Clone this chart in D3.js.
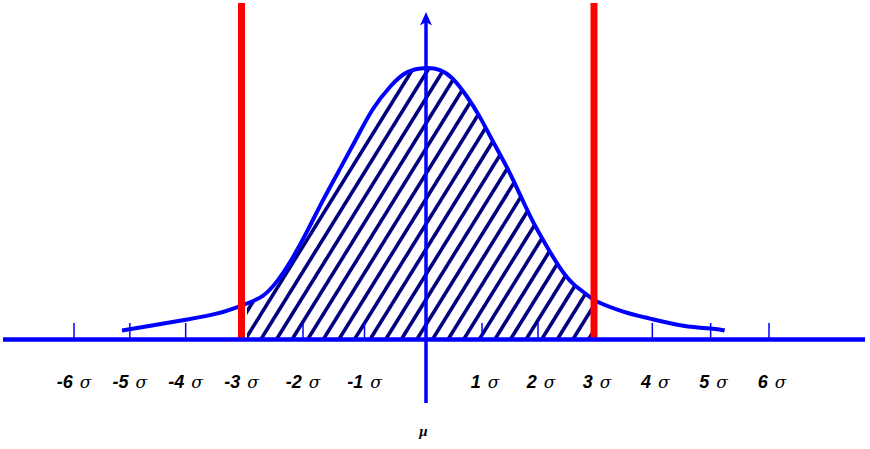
<!DOCTYPE html>
<html>
<head>
<meta charset="utf-8">
<script src="https://cdn.jsdelivr.net/npm/d3@7"></script>
<style>
  html, body { margin: 0; padding: 0; background: #fff; }
  svg { display: block; }
</style>
</head>
<body>
<svg id="chart" width="870" height="449"></svg>
<script>
// ---- data ----
const sigmaTicks = [-6, -5, -4, -3, -2, -1, 1, 2, 3, 4, 5, 6];
const tickLabels = ["-6", "-5", "-4", "-3", "-2", "-1", "1", "2", "3", "4", "5", "6"];
const tickMarks = [-6, -5, -4, -2, -1, 1, 2, 4, 5, 6];
const controlLimits = [-3, 3];
// bell curve: x in sigma units, height relative to the peak
const curveSigma  = [-5.14, -4.63, -3.97, -3.43, -3.0, -2.66, -2.42, -2.21, -1.93, -1.67, -1.39, -1.12, -0.86, -0.58, -0.31, 0.0,
                     0.25, 0.48, 0.73, 0.96, 1.20, 1.45, 1.68, 1.91, 2.16, 2.39, 2.63, 2.875, 3.05, 3.5, 3.96, 4.53, 5.04, 5.24];
const curveHeight = [0.033, 0.051, 0.074, 0.096, 0.125, 0.16, 0.215, 0.285, 0.40, 0.515, 0.632, 0.745, 0.850, 0.932, 0.984, 1.0,
                     0.992, 0.960, 0.895, 0.820, 0.728, 0.632, 0.533, 0.434, 0.342, 0.265, 0.205, 0.165, 0.140, 0.103, 0.077, 0.051, 0.040, 0.033];
const meanLabel = "\u03BC";
const sigmaSymbol = "\u03C3";

// ---- layout ----
const svg = d3.select("#chart");
const baseY = 339.5;
const x = d3.scaleLinear().domain([-6, -3, 0, 3, 6]).range([74, 241.5, 426, 594, 769]);
const y = d3.scaleLinear().domain([0, 1]).range([baseY, 68]);

const blue = "#0000ff", navy = "#000080", red = "#ff0000";

const pts = curveSigma.map((s, i) => [s, curveHeight[i]]);
const line = d3.line().x(d => x(d[0])).y(d => y(d[1])).curve(d3.curveNatural);
const area = d3.area().x(d => x(d[0])).y0(baseY).y1(d => y(d[1])).curve(d3.curveNatural);

// clip for hatching: under the curve, between the limits
const defs = svg.append("defs");
defs.append("clipPath").attr("id", "hatchClip").append("path").attr("d", area(pts));
defs.append("clipPath").attr("id", "limitClip").append("rect")
  .attr("x", x(controlLimits[0]) + 5.5)
  .attr("y", 0)
  .attr("width", x(controlLimits[1]) - x(controlLimits[0]) - 5.5)
  .attr("height", baseY + 1);

const hatchG = svg.append("g").attr("clip-path", "url(#limitClip)")
  .append("g").attr("clip-path", "url(#hatchClip)");
const spacing = 15.6, slope = 0.62, H = 290;
const startX = 307 - spacing * 6;
const hatchStarts = d3.range(startX, x(controlLimits[1]) + 5, spacing);
hatchG.selectAll("line").data(hatchStarts).join("line")
  .attr("x1", d => d).attr("y1", baseY + 1)
  .attr("x2", d => d + slope * H).attr("y2", baseY + 1 - H)
  .attr("stroke", navy).attr("stroke-width", 3.6);

// curve
svg.append("path").attr("d", line(pts))
  .attr("fill", "none").attr("stroke", blue).attr("stroke-width", 4)
  .attr("stroke-linecap", "butt").attr("stroke-linejoin", "round");

// vertical axis with arrow
const x0 = x(0);
svg.append("line").attr("x1", x0).attr("x2", x0).attr("y1", 22).attr("y2", 403)
  .attr("stroke", blue).attr("stroke-width", 3.5);
svg.append("path")
  .attr("d", `M${x0},12 L${x0 + 6},25.5 L${x0},22 L${x0 - 6},25.5 Z`)
  .attr("fill", blue);

// red limit lines
svg.selectAll("line.limit").data(controlLimits).join("line").attr("class", "limit")
  .attr("x1", d => x(d)).attr("x2", d => x(d)).attr("y1", 3).attr("y2", baseY)
  .attr("stroke", red).attr("stroke-width", 7);

// baseline
svg.append("line").attr("x1", 3).attr("x2", 865).attr("y1", baseY).attr("y2", baseY)
  .attr("stroke", blue).attr("stroke-width", 4.5);

// tick marks
svg.selectAll("line.tick").data(tickMarks).join("line").attr("class", "tick")
  .attr("x1", d => x(d)).attr("x2", d => x(d)).attr("y1", 323).attr("y2", baseY)
  .attr("stroke", blue).attr("stroke-width", 1.5);

// tick labels
const labels = svg.selectAll("text.lab").data(sigmaTicks).join("text").attr("class", "lab")
  .attr("x", d => x(d) + (d < 0 ? 0 : 3))
  .attr("y", 388)
  .attr("text-anchor", "middle")
  .attr("font-family", "Liberation Sans, Arial, sans-serif")
  .attr("fill", "#000");
labels.append("tspan").attr("font-weight", "bold").attr("font-style", "italic").attr("font-size", 18)
  .text((d, i) => tickLabels[i]);
labels.append("tspan").attr("dx", 7).attr("font-style", "italic").attr("font-size", 17)
  .attr("font-family", "DejaVu Serif, Liberation Serif, serif")
  .text(sigmaSymbol);

// mu label
svg.append("text").attr("x", x0 - 2.5).attr("y", 436)
  .attr("text-anchor", "middle")
  .attr("font-family", "Liberation Serif, serif")
  .attr("font-style", "italic").attr("font-weight", "bold").attr("font-size", 15)
  .text(meanLabel);
</script>
</body>
</html>
